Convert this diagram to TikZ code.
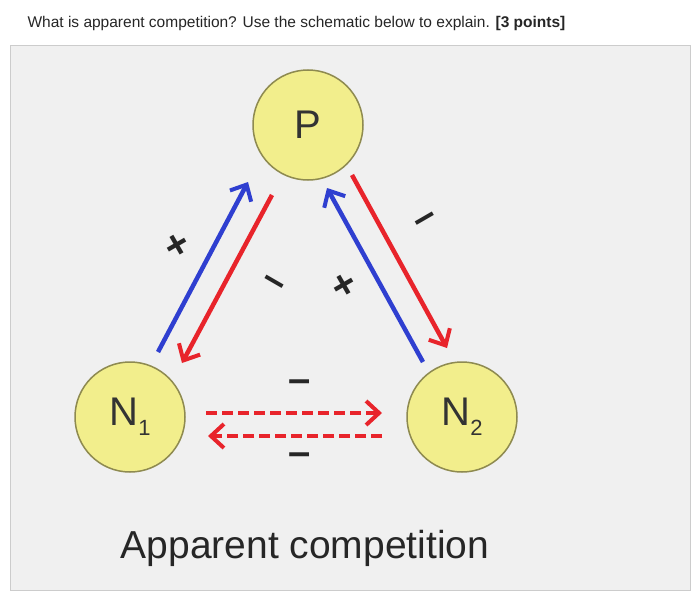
\documentclass[tikz,border=0pt]{standalone}
\usepackage{fontspec}
\setmainfont{Liberation Sans}
\usetikzlibrary{arrows.meta}
\definecolor{circ}{HTML}{F2EE8C}
\definecolor{circd}{HTML}{8E8A50}
\definecolor{myred}{HTML}{E8242B}
\definecolor{myblue}{HTML}{2F3FD0}
\newcommand{\mysub}[1]{\raisebox{-0.25em}{\fontsize{22}{22}\selectfont #1}}
\begin{document}
\begin{tikzpicture}[x=1pt,y=-1pt,
 pop/.style={circle,draw=circd,line width=1.5pt,fill=circ,minimum size=110pt,inner sep=0pt,font=\fontsize{40}{42}\selectfont,text=black!80},
 arr/.style={line width=4.5pt,-{Straight Barb[length=13pt,width=24pt,line width=4pt]}},
 darr/.style={arr,dash pattern=on 11pt off 5pt},
 sgn/.style={font=\fontsize{40}{40}\selectfont\bfseries,text=black!85}]
\useasboundingbox (0,0) rectangle (700,594);
\fill[white] (0,0) rectangle (700,594);
\draw[gray!40,fill=black!6,line width=1pt] (10,46) rectangle (690,590);
\node[anchor=west,font=\fontsize{15.5}{17}\selectfont,text=black!85] (q) at (24,23) {What is apparent competition? Use the schematic below to explain. \textbf{[3 points]}};
\node[pop] (P) at (308,125) {P};
\node[pop] (N1) at (130,417) {N\mysub{1}};
\node[pop] (N2) at (462,417) {N\mysub{2}};
\coordinate (a1) at (158,352); \coordinate (a2) at (248,182);
\coordinate (b1) at (272,195); \coordinate (b2) at (182,363);
\coordinate (c1) at (423,362); \coordinate (c2) at (327,188);
\coordinate (d1) at (352,175); \coordinate (d2) at (447,348);
\coordinate (e1) at (206,413); \coordinate (e2) at (382,413);
\coordinate (f1) at (382,436); \coordinate (f2) at (208,436);
\draw[arr,myblue] (a1) -- (a2);
\draw[arr,myred] (b1) -- (b2);
\draw[arr,myblue] (c1) -- (c2);
\draw[arr,myred] (d1) -- (d2);
\draw[darr,myred] (e1) -- (e2);
\draw[darr,myred] (f1) -- (f2);
\node[sgn,rotate=30] (s1) at (178,246) {+};
\node[sgn,rotate=-30] (s2) at (272,286) {\textendash};
\node[sgn,rotate=30] (s3) at (345,286) {+};
\node[sgn,rotate=30] (s4) at (427,222) {\textendash};
\node[sgn] (s5) at (300,386) {\textendash};
\node[sgn] (s6) at (300,459) {\textendash};
\node[font=\fontsize{39}{41}\selectfont,text=black!85] (t) at (305,548) {Apparent competition};
\end{tikzpicture}
\end{document}
